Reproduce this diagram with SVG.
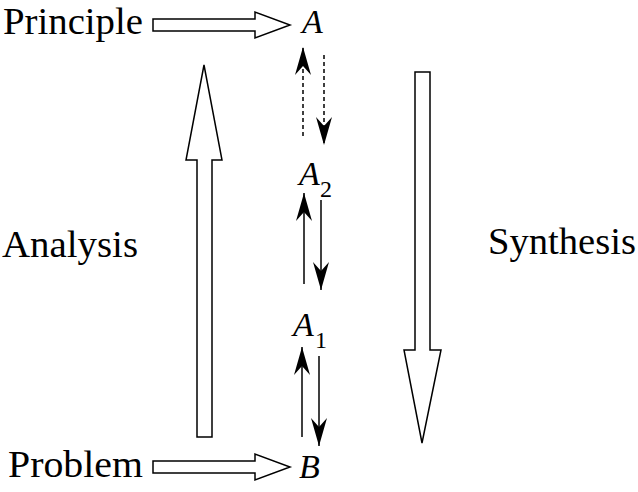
<svg xmlns="http://www.w3.org/2000/svg" width="638" height="492" viewBox="0 0 638 492">
<style>
.t{font-family:"Liberation Serif",serif;font-size:38px;fill:#000}
.i{font-style:italic;font-size:34px}
.s{font-size:24px}
.h{fill:#fff;stroke:#000;stroke-width:1.5}
.l{stroke:#000;stroke-width:1.5;fill:none}
.d{stroke-dasharray:4 3}
</style>
<defs><marker id="ah" viewBox="0 0 28 16" refX="28" refY="8" markerWidth="28" markerHeight="16" markerUnits="userSpaceOnUse" orient="auto"><path d="M0,0L28,8L0,16L9,8Z" fill="#000"/></marker></defs>
<g id="labels">
<text class="t" x="3" y="34" textLength="140" lengthAdjust="spacingAndGlyphs">Principle</text>
<text class="t" x="8" y="477" textLength="135" lengthAdjust="spacingAndGlyphs">Problem</text>
<text class="t" x="2" y="257" textLength="136" lengthAdjust="spacingAndGlyphs">Analysis</text>
<text class="t" x="488" y="254" textLength="148" lengthAdjust="spacingAndGlyphs">Synthesis</text>
</g>
<g id="nA"><text class="t i" x="302" y="33">A</text></g>
<g id="nA2"><text class="t i" x="299" y="185">A</text><text class="t s" x="320" y="197">2</text></g>
<g id="nA1"><text class="t i" x="293" y="336">A</text><text class="t s" x="315" y="348">1</text></g>
<g id="nB"><text class="t i" x="299" y="478">B</text></g>
<g id="connectors">
<path class="h" d="M153,19H255V12L290,25L255,38V31H153Z"/>
<path class="h" d="M153,461H255V454L290,467L255,480V473H153Z"/>
<path class="h" d="M197,437V160H186L204,65L222,160H212V437Z"/>
<path class="h" d="M415,72V350H404L422,443L441,350H430V72Z"/>
<line class="l d" x1="303" y1="136" x2="303" y2="47" marker-end="url(#ah)"/>
<line class="l d" x1="324" y1="55" x2="324" y2="145" marker-end="url(#ah)"/>
<line class="l" x1="304" y1="284" x2="304" y2="193" marker-end="url(#ah)"/>
<line class="l" x1="321" y1="200" x2="321" y2="290" marker-end="url(#ah)"/>
<line class="l" x1="302" y1="437" x2="302" y2="347" marker-end="url(#ah)"/>
<line class="l" x1="319" y1="356" x2="319" y2="446" marker-end="url(#ah)"/>
</g>
</svg>
